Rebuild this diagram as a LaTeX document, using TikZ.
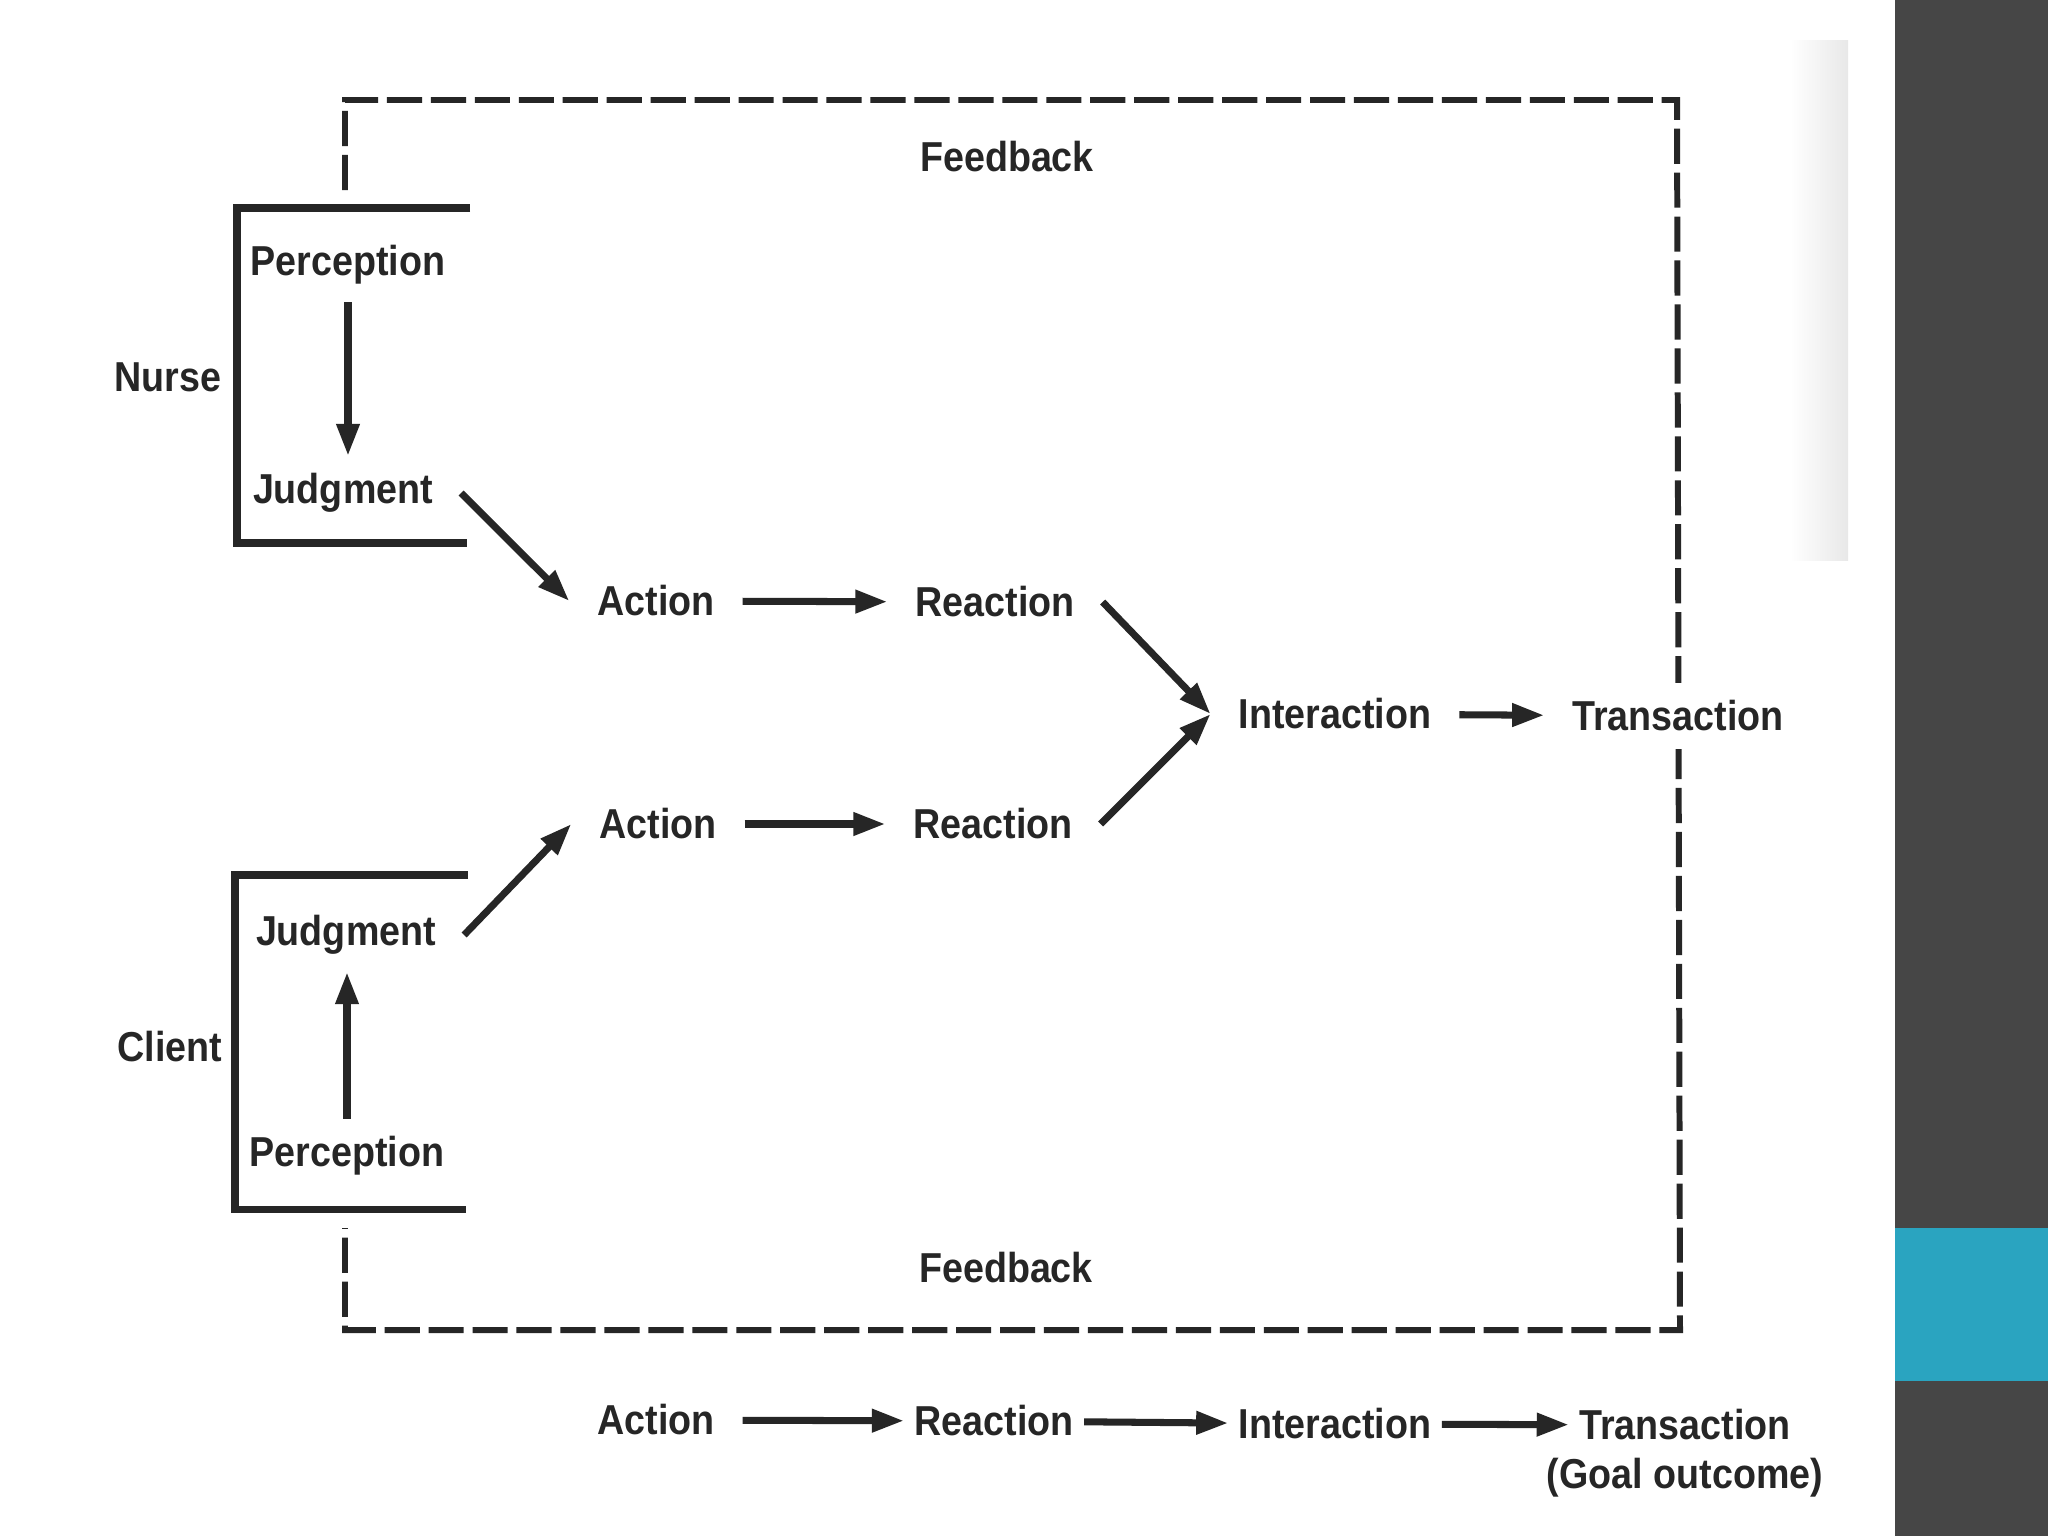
\documentclass[tikz,border=0pt]{standalone}
\usepackage{fontspec}
\setmainfont{Liberation Sans}[FakeStretch=0.9]
\usetikzlibrary{arrows.meta}
\definecolor{ink}{HTML}{262626}
\definecolor{slate}{HTML}{464646}
\definecolor{band}{HTML}{2AA4C0}
\begin{document}
\begin{tikzpicture}[x=0.01cm, y=-0.01cm,
    lbl/.style={font=\bfseries\fontsize{11.9}{14}\selectfont, text=ink, inner sep=0pt, outer xsep=8pt, outer ysep=5pt},
    rowlbl/.style={lbl, outer xsep=3pt},
    flow/.style={draw=ink, line width=2pt, -{Triangle[length=3.2mm,width=2.2mm]}},
    bracket/.style={draw=ink, line width=2pt},
    fbloop/.style={draw=ink, line width=1.7pt, dash pattern=on 10pt off 2.5pt}]
    \useasboundingbox (0,0) rectangle (2048,1536);
    \fill[white] (0,0) rectangle (2048,1536);
    % slide frame
    \fill[slate] (1895,0) rectangle (2048,1536);
    \fill[band] (1895,1228) rectangle (2048,1381);
    \shade[left color=white, right color=gray!18] (1790,40) rectangle (1848,560);
    % feedback loop
    \draw[fbloop] (345,190) -- (345,100) -- (1677,100) -- (1680,1330) -- (345,1330) -- (345,1228);
    % nurse and client
    \draw[bracket] (470,208) -- (237,208) -- (237,543) -- (467,543);
    \draw[bracket] (468,875) -- (235,875) -- (235,1209) -- (466,1209);
    \node[lbl] (fbtop) at (1007,157) {Feedback};
    \node[lbl] (fbbot) at (1006,1268) {Feedback};
    \node[lbl] (nurse) at (168,377) {Nurse};
    \node[lbl] (client) at (170,1047) {Client};
    \node[lbl] (pn) at (348,265) {Perception};
    \node[lbl] (jn) at (343,493) {Judgment};
    \node[lbl] (jc) at (346,935) {Judgment};
    \node[lbl] (pc) at (347,1156) {Perception};
    \node[lbl] (an) at (656,601) {Action};
    \node[lbl] (rn) at (995,602) {Reaction};
    \node[lbl] (ac) at (658,824) {Action};
    \node[lbl] (rc) at (993,824) {Reaction};
    \node[lbl] (inter) at (1335,714) {Interaction};
    \node[lbl, fill=white, inner ysep=5pt] (trans) at (1678,716) {Transaction};
    \draw[flow] (pn.south) -- (pn.south |- jn.north);
    \draw[flow] (pc.north) -- (pc.north |- jc.south);
    \draw[flow] (jn.east) -- (an.west);
    \draw[flow] (jc.east) -- (ac.west);
    \draw[flow] (an) -- (rn);
    \draw[flow] (ac) -- (rc);
    \draw[flow] (rn.east) -- (inter.west);
    \draw[flow] (rc.east) -- (inter.west);
    \draw[flow] (inter) -- (trans);
    % summary row
    \node[lbl] (ka) at (656,1420) {Action};
    \node[rowlbl] (kr) at (994,1421) {Reaction};
    \node[rowlbl] (ki) at (1335,1424) {Interaction};
    \node[rowlbl] (kt) at (1685,1425) {Transaction};
    \node[lbl] (goal) at (1685,1478) {(Goal outcome)};
    \foreach \a/\b in {ka/kr, kr/ki, ki/kt}
        \draw[flow] (\a) -- (\b);
\end{tikzpicture}
\end{document}
